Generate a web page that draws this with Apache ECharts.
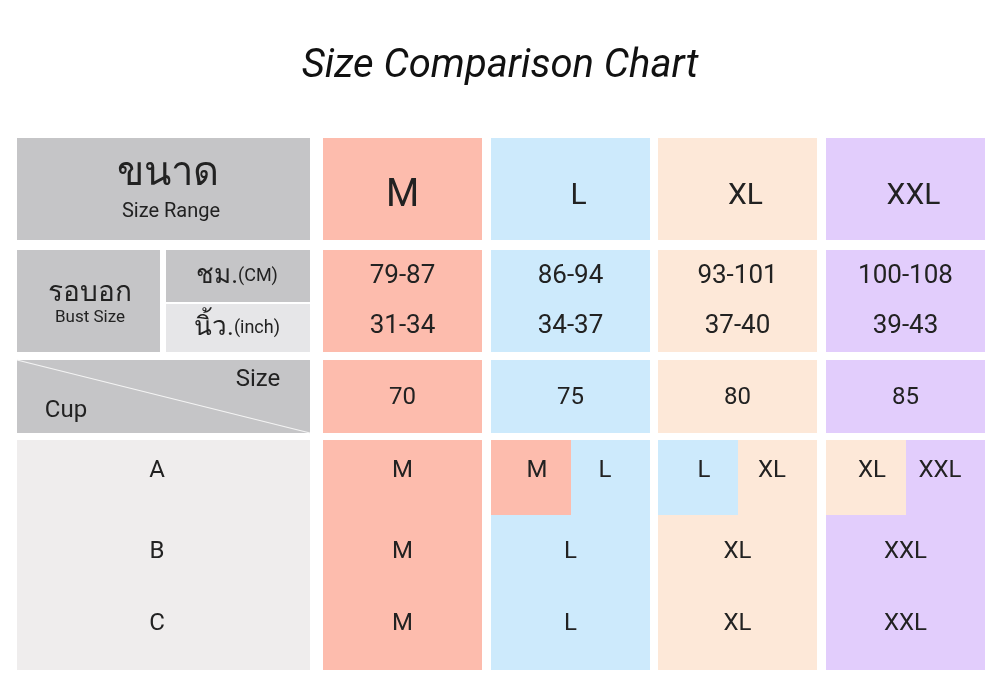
<!DOCTYPE html>
<html><head><meta charset="utf-8">
<script src="https://cdn.jsdelivr.net/npm/echarts@6/dist/echarts.min.js"></script>
<style>html,body{margin:0;padding:0;background:#fff}#c{width:1000px;height:682px}</style>
</head><body><div id="c"></div>
<script>
const title = 'Size Comparison Chart';
const sizes = ['M','L','XL','XXL'];
const cmRanges = ['79-87','86-94','93-101','100-108'];
const inchRanges = ['31-34','34-37','37-40','39-43'];
const bands = ['70','75','80','85'];
const cups = ['A','B','C'];
const cupA = [['M'],['M','L'],['L','XL'],['XL','XXL']];
const cupB = ['M','L','XL','XXL'];
const cupC = ['M','L','XL','XXL'];

// styles / layout (separate from data)
const colColor = {M:'#fdbcad', L:'#cdeafc', XL:'#fde8d8', XXL:'#e2cdfc'};
const gray = '#c5c5c7', light = '#e6e6e8', pale = '#efeded', ink = '#222';
const F = 'Roboto, "Noto Sans", "DejaVu Sans", sans-serif';
const colX = [323,491,658,826], colW = 159;
const rowY = [[138,240],[250,352],[360,433],[440,670]];
const cupY = [471,552,624];

const items = [];
function T(t,x,y,size,align){return {t,x,y,size,align:align||'center'};}
// left header cells
items.push({x0:17,y0:138,x1:310,y1:240,fill:gray,texts:[T('ขนาด',168,175,40),T('Size Range',171,212,20)]});
items.push({x0:17,y0:250,x1:160,y1:352,fill:gray,texts:[T('รอบอก',90,294,28),T('Bust Size',90,318,17)]});
items.push({x0:166,y0:250,x1:310,y1:302,fill:gray,texts:[T('{a|ชม.}{b|(CM)}',237,276,26)]});
items.push({x0:166,y0:304,x1:310,y1:352,fill:light,texts:[T('{a|นิ้ว.}{b|(inch)}',237,328,26)]});
items.push({x0:17,y0:360,x1:310,y1:433,fill:gray,diag:true,texts:[T('Size',258,380,24),T('Cup',66,411,24)]});
items.push({x0:17,y0:440,x1:310,y1:670,fill:pale,texts:cups.map((c,i)=>T(c,157,cupY[i],24))});

sizes.forEach((s,i)=>{
  const x0 = colX[i], x1 = x0+colW, cx = x0+colW/2, c = colColor[s];
  items.push({x0,y0:rowY[0][0],x1,y1:rowY[0][1],fill:c,texts:[T(s,cx+(i?8:0),196,s==='M'?38:30)]});
  items.push({x0,y0:rowY[1][0],x1,y1:rowY[1][1],fill:c,texts:[T(cmRanges[i],cx,276,26),T(inchRanges[i],cx,326,26)]});
  items.push({x0,y0:rowY[2][0],x1,y1:rowY[2][1],fill:c,texts:[T(bands[i],cx,398,24)]});
  items.push({x0,y0:rowY[3][0],x1,y1:rowY[3][1],fill:c,texts:[T(cupB[i],cx,cupY[1],24),T(cupC[i],cx,cupY[2],24)]});
  const a = cupA[i];
  if (a.length===1) items.push({x0,y0:440,x1,y1:515,fill:null,texts:[T(a[0],cx,cupY[0],24)]});
  else {
    items.push({x0,y0:440,x1:x0+80,y1:515,fill:colColor[a[0]],texts:[T(a[0],x0+46,cupY[0],24)]});
    items.push({x0:x0+80,y0:440,x1,y1:515,fill:null,texts:[T(a[1],x0+114,cupY[0],24)]});
  }
});

const chart = echarts.init(document.getElementById('c'));
chart.setOption({
  backgroundColor:'#fff',
  animation:false,
  title:{text:title,left:'center',top:42,textStyle:{fontFamily:F,fontSize:40,fontStyle:'italic',fontWeight:'normal',color:'#111'}},
  grid:{left:0,top:0,right:0,bottom:0},
  xAxis:{type:'value',min:0,max:1000,show:false},
  yAxis:{type:'value',min:0,max:682,inverse:true,show:false},
  series:[{
    type:'custom',
    data:items.map((it,i)=>[it.x0,it.y0,it.x1,it.y1,i]),
    encode:{x:[0,2],y:[1,3]},
    renderItem:(params,api)=>{
      const it = items[params.dataIndex];
      const p0 = api.coord([it.x0,it.y0]), p1 = api.coord([it.x1,it.y1]);
      const ch = [];
      if (it.fill) ch.push({type:'rect',shape:{x:p0[0],y:p0[1],width:p1[0]-p0[0],height:p1[1]-p0[1]},style:{fill:it.fill}});
      if (it.diag) ch.push({type:'line',shape:{x1:p0[0],y1:p0[1],x2:p1[0],y2:p1[1]},style:{stroke:'#f4f4f4',lineWidth:1.2}});
      it.texts.forEach(t=>{
        const p = api.coord([t.x,t.y]);
        ch.push({type:'text',x:p[0],y:p[1],style:{text:t.t,fill:ink,font:t.size+'px '+F,align:t.align,verticalAlign:'middle',
          rich:{a:{fontSize:t.size,fontFamily:F,fill:ink},b:{fontSize:18,fontFamily:F,fill:ink}}}});
      });
      return {type:'group',children:ch};
    }
  }]
});
</script></body></html>
